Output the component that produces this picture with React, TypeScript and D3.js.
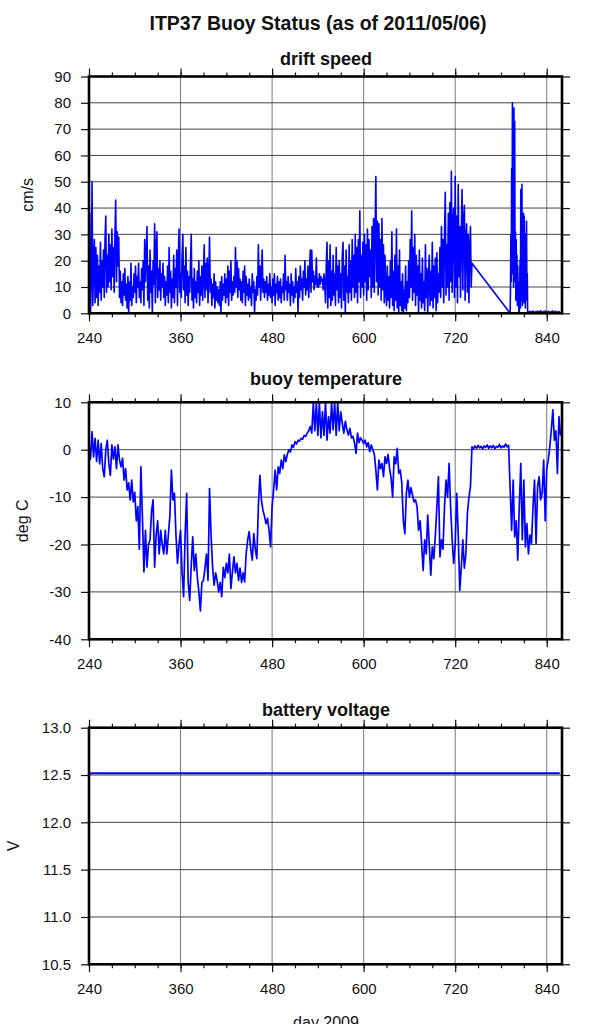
import React, { useEffect, useRef } from "react";
import * as d3 from "d3";

// drift speed (cm/s), rows of 10 days starting at day 240, one value per day
const driftRows: number[][] = [
  [2, 38, 0, 12, 50, 3, 20, 28, 4, 25],
  [6, 22, 3, 18, 8, 27, 5, 20, 10, 24],
  [6, 28, 37, 8, 22, 10, 30, 12, 26, 9],
  [32, 14, 25, 8, 30, 43, 12, 31, 18, 29],
  [6, 16, 4, 12, 3, 15, 7, 17, 5, 11],
  [2, 14, 0, 12, 5, 19, 3, 10, 6, 15],
  [8, 18, 4, 14, 10, 19, 6, 12, 4, 17],
  [9, 20, 3, 28, 12, 22, 33, 5, 18, 2],
  [24, 8, 16, 0, 20, 11, 34, 4, 25, 31],
  [6, 17, 9, 20, 5, 15, 10, 19, 6, 14],
  [3, 12, 7, 18, 4, 25, 8, 16, 2, 13],
  [6, 22, 4, 17, 10, 24, 3, 20, 32, 8],
  [15, 6, 22, 30, 9, 18, 4, 25, 7, 16],
  [3, 14, 8, 19, 30, 5, 13, 2, 17, 6],
  [12, 4, 16, 8, 20, 3, 14, 7, 18, 5],
  [15, 26, 6, 19, 9, 21, 4, 14, 29, 8],
  [13, 3, 11, 6, 15, 2, 12, 5, 10, 4],
  [9, 3, 12, 0, 14, 5, 11, 7, 15, 4],
  [13, 6, 18, 3, 16, 8, 20, 5, 12, 7],
  [14, 8, 25, 10, 20, 6, 17, 9, 13, 5],
  [12, 4, 16, 8, 18, 3, 14, 7, 11, 5],
  [13, 6, 10, 3, 15, 8, 12, 0, 9, 5],
  [14, 7, 26, 10, 18, 5, 15, 24, 8, 13],
  [6, 12, 8, 14, 5, 11, 7, 15, 6, 10],
  [4, 13, 7, 15, 3, 11, 8, 14, 5, 12],
  [6, 13, 4, 10, 8, 15, 5, 22, 9, 12],
  [5, 14, 8, 11, 3, 15, 7, 12, 4, 10],
  [6, 17, 8, 12, 0, 14, 6, 18, 9, 13],
  [5, 16, 10, 20, 7, 13, 9, 18, 6, 15],
  [24, 8, 24, 12, 16, 9, 14, 11, 21, 10],
  [13, 10, 15, 11, 14, 12, 13, 9, 15, 11],
  [4, 18, 27, 2, 20, 6, 26, 3, 16, 5],
  [22, 7, 15, 3, 25, 9, 18, 4, 20, 6],
  [15, 2, 22, 27, 5, 18, 0, 24, 8, 14],
  [4, 26, 8, 20, 5, 28, 10, 22, 6, 30],
  [8, 25, 4, 28, 12, 39, 6, 22, 10, 27],
  [7, 30, 12, 26, 5, 32, 9, 28, 14, 24],
  [6, 33, 10, 36, 8, 30, 52, 12, 35, 7],
  [34, 10, 28, 5, 36, 9, 26, 4, 22, 8],
  [3, 18, 5, 14, 2, 20, 6, 31, 3, 16],
  [1, 22, 5, 32, 2, 18, 0, 24, 3, 12],
  [1, 15, 0, 9, 2, 18, 1, 12, 4, 20],
  [6, 28, 10, 39, 5, 25, 8, 30, 3, 22],
  [7, 18, 0, 24, 5, 15, 2, 21, 4, 12],
  [1, 26, 6, 17, 0, 14, 22, 3, 16, 5],
  [27, 2, 18, 6, 21, 1, 23, 4, 15, 8],
  [25, 6, 33, 10, 28, 4, 30, 46, 7, 26],
  [10, 38, 5, 42, 12, 54, 8, 35, 40, 6],
  [52, 10, 37, 4, 49, 14, 33, 6, 30, 47],
  [9, 36, 41, 5, 28, 34, 8, 30, 4, 25],
  [33, 10, 19],
];
const driftStart = 240;

// after the data gap: spike section every half day from day 792
const driftSpike = [
  0, 10, 30, 12, 55, 20, 80, 15, 78, 10,
  78, 25, 73, 12, 31, 5, 28, 10, 22, 3,
  18, 6, 12, 0, 0, 8, 20, 2, 47, 5,
  30, 49, 3, 25, 8, 38, 4, 37, 10, 30,
  2, 20, 5, 35, 8, 15, 0,
];
const spikeStart = 792;

// near-zero tail, one per day from day 816
const driftTail = [
  0.5, 0.2, 0.8, 0.1, 0.6, 0.3, 0.9, 0.2, 0.5, 0.1,
  0.7, 0.4, 0.8, 0.2, 0.6, 0.3, 1.0, 0.2, 0.5, 0.1,
  0.7, 0.3, 0.9, 0.2, 0.6, 0.1, 0.8, 0.3, 0.5, 0.2,
  0.7, 0.4, 0.9, 0.1, 0.6, 0.3, 0.8, 0.2, 0.5, 0.1,
  0.7, 0.3,
];
const tailStart = 816;

// buoy temperature (deg C), rows of 10 values every 2 days from day 240
const tempRows: number[][] = [
  [1, -2, 3.8, -1.5, 2.4, -2.5, 2, -3, 1.3, -4],
  [-5.7, 0, 2, -3, -5.4, 1, -2, 0.6, -4, 1],
  [-2.2, -3.6, -1.8, -6.4, -4, -8.5, -7, -10.6, -6.4, -11],
  [-9, -15, -12, -21, -3.6, -14, -25.8, -17, -24.8, -20],
  [-19, -13, -10.6, -24.8, -18, -15, -22, -17, -20, -22],
  [-17, -22, -18, -14, -4.3, -10.6, -9.2, -18, -24, -20],
  [-17, -26, -31, -18, -9.2, -28, -31.8, -24.4, -18.4, -25.5],
  [-22, -26.9, -30, -34, -28, -27.6, -25, -22, -27.6, -8.2],
  [-18, -24.8, -28.6, -26, -27.6, -30, -28, -31, -24.8, -27],
  [-24, -26, -22, -29.3, -25.8, -22.6, -26, -24, -27.6, -25],
  [-28, -26, -27.9, -22, -19, -17.3, -21, -23.3, -17.7, -21],
  [-23, -12, -5.4, -10.6, -12.8, -14, -15.6, -14.5, -17, -20.5],
  [-12, -8.5, -4.3, -8.5, -3.6, -5, -2.2, -4, -1.1, -2.5],
  [-1, 0, -0.5, 1, 0.5, 1.7, 1.2, 2, 1.8, 2.4],
  [2.2, 3, 2.8, 3.5, 4, 4.9, 3.5, 9.8, 4, 10],
  [3, 10, 2.5, 8, 3, 10, 2, 7, 3.5, 10],
  [4.2, 10, 3, 10, 4, 8, 5.6, 3.5, 6, 4.2],
  [3.1, 4.5, 2.5, 2.8, 1.5, -0.8, 3.5, 1.5, 2.5, 2],
  [1.3, 2, 0.6, 1.5, -0.4, 1, 0, -1, -4.3, -8.5],
  [-2.2, -4, -2.9, -5.7, -1.5, -2.9, -1, -4, -6, -10],
  [-1.5, -3, 0.3, -5, -4.3, -7, -15, -17.7, -9.2, -6.4],
  [-10, -8, -9.5, -11, -10.6, -12, -17, -15, -19.8, -25.5],
  [-19, -22, -13.8, -20, -26.5, -20.5, -23, -18, -12, -5.7],
  [-22.6, -19, -21, -12, -6.4, -10, -2.9, -12, -19, -24],
  [-20, -9.2, -18, -29.7, -24.8, -19, -25, -22, -13.5, -10],
  [-7.8, 0.6, 0.2, 0.8, 0.3, 0.9, 0.4, 0.7, 0.2, 0.8],
  [0.5, 1.0, 0.3, 0.8, 0.4, 0.9, 0.2, 0.7, 0.5, 1.1],
  [0.4, 0.8, 0.5, 1.2, 0.6, 0.9, -8, -17, -6.4, -18.4],
  [-15, -23.3, -12, -2.9, -19, -6.4, -20.5, -15.6, -22, -18],
  [-19.8, -12, -6.4, -19.8, -7.8, -5.7, -10.6, -9, -2.2, -15],
  [-4, -2.2, 0.6, 4.2, 8.4, 2, 4, -5, 7, 3],
];
const tempStart = 240;

// battery voltage (V)
const batteryDays = [241, 857];
const batteryValues = [12.52, 12.52];

const xMajorTicks = [240, 360, 480, 600, 720, 840];
const xMinorTicks = d3.range(240, 861, 30);
const speedTicks = [0, 10, 20, 30, 40, 50, 60, 70, 80, 90];
const tempTicks = [-40, -30, -20, -10, 0, 10];
const voltTicks = [10.5, 11.0, 11.5, 12.0, 12.5, 13.0];

interface Pt {
  day: number;
  value: number;
}

const FONT = "'Liberation Sans', Arial, Helvetica, sans-serif";

export default function App() {
  const svgRef = useRef<SVGSVGElement>(null);

  useEffect(() => {
    const svg = d3.select(svgRef.current);
    svg.selectAll("*").remove();

    const left = 89;
    const right = 562;
    const x = d3.scaleLinear().domain([240, 860]).range([left, right]);

    const drift: Pt[] = [];
    driftRows.forEach((row, r) =>
      row.forEach((v, j) => drift.push({ day: driftStart + r * 10 + j, value: v }))
    );
    driftSpike.forEach((v, i) => drift.push({ day: spikeStart + i * 0.5, value: v }));
    driftTail.forEach((v, i) => drift.push({ day: tailStart + i, value: v }));

    const temp: Pt[] = [];
    tempRows.forEach((row, r) =>
      row.forEach((v, j) => temp.push({ day: tempStart + r * 20 + j * 2, value: v }))
    );

    const battery: Pt[] = batteryDays.map((d, i) => ({ day: d, value: batteryValues[i] }));

    // plain hyphen minus like the original plot
    const intFmt = (d: number) => String(Math.round(d));

    const panels = [
      {
        id: "p1",
        top: 76.5,
        bottom: 313.3,
        domain: [0, 90],
        ticks: speedTicks,
        fmt: intFmt,
        title: "drift speed",
        titleY: 64.5,
        label: "cm/s",
        labelX: 33,
        data: drift,
        width: 1.6,
      },
      {
        id: "p2",
        top: 402.3,
        bottom: 639.3,
        domain: [-40, 10],
        ticks: tempTicks,
        fmt: intFmt,
        title: "buoy temperature",
        titleY: 384.5,
        label: "deg C",
        labelX: 28,
        data: temp,
        width: 1.7,
      },
      {
        id: "p3",
        top: 727.7,
        bottom: 964.3,
        domain: [10.5, 13],
        ticks: voltTicks,
        fmt: d3.format(".1f"),
        title: "battery voltage",
        titleY: 716,
        label: "V",
        labelX: 19,
        data: battery,
        width: 2,
      },
    ];

    svg
      .append("text")
      .attr("x", 318)
      .attr("y", 30)
      .attr("text-anchor", "middle")
      .attr("font-family", FONT)
      .attr("font-weight", "bold")
      .attr("font-size", 19.5)
      .attr("fill", "#111")
      .text("ITP37 Buoy Status (as of 2011/05/06)");

    panels.forEach((p) => {
      const y = d3.scaleLinear().domain(p.domain).range([p.bottom, p.top]);
      const g = svg.append("g");

      g.append("clipPath")
        .attr("id", `clip-${p.id}`)
        .append("rect")
        .attr("x", left)
        .attr("y", p.top)
        .attr("width", right - left)
        .attr("height", p.bottom - p.top);

      // grid
      g.selectAll(".vgrid")
        .data(xMajorTicks.slice(1))
        .enter()
        .append("line")
        .attr("x1", (d) => x(d))
        .attr("x2", (d) => x(d))
        .attr("y1", p.top)
        .attr("y2", p.bottom)
        .attr("stroke", "#777")
        .attr("stroke-width", 1);

      g.selectAll(".hgrid")
        .data(p.ticks.slice(1, -1))
        .enter()
        .append("line")
        .attr("x1", left)
        .attr("x2", right)
        .attr("y1", (d) => y(d))
        .attr("y2", (d) => y(d))
        .attr("stroke", "#444")
        .attr("stroke-width", 1);

      const line = d3
        .line<Pt>()
        .x((d) => x(d.day))
        .y((d) => y(d.value));

      g.append("path")
        .datum(p.data)
        .attr("clip-path", `url(#clip-${p.id})`)
        .attr("fill", "none")
        .attr("stroke", "#0000ff")
        .attr("stroke-width", p.width)
        .attr("stroke-linejoin", "round")
        .attr("d", line);

      const styleAxis = (sel: d3.Selection<SVGGElement, unknown, null, undefined>) => {
        sel.select(".domain").remove();
        sel.selectAll("line").attr("stroke", "#111").attr("stroke-width", 1.2);
        sel
          .selectAll("text")
          .attr("font-family", FONT)
          .attr("font-size", 15)
          .attr("fill", "#111");
      };

      // bottom
      g.append("g")
        .attr("transform", `translate(0,${p.bottom})`)
        .call(
          d3.axisBottom(x).tickValues(xMinorTicks).tickSize(4).tickFormat(() => "")
        )
        .call(styleAxis);
      g.append("g")
        .attr("transform", `translate(0,${p.bottom})`)
        .call(
          d3
            .axisBottom(x)
            .tickValues(xMajorTicks)
            .tickSize(8)
            .tickPadding(11.3)
            .tickFormat((d) => intFmt(d as number))
        )
        .call(styleAxis);

      // top
      g.append("g")
        .attr("transform", `translate(0,${p.top})`)
        .call(d3.axisTop(x).tickValues(xMinorTicks).tickSize(4).tickFormat(() => ""))
        .call(styleAxis);
      g.append("g")
        .attr("transform", `translate(0,${p.top})`)
        .call(d3.axisTop(x).tickValues(xMajorTicks).tickSize(8).tickFormat(() => ""))
        .call(styleAxis);

      // left
      g.append("g")
        .attr("transform", `translate(${left},0)`)
        .call(
          d3
            .axisLeft(y)
            .tickValues(p.ticks)
            .tickSize(8)
            .tickPadding(10)
            .tickFormat((d) => p.fmt(d as number))
        )
        .call(styleAxis);

      // right
      g.append("g")
        .attr("transform", `translate(${right},0)`)
        .call(d3.axisRight(y).tickValues(p.ticks).tickSize(8).tickFormat(() => ""))
        .call(styleAxis);

      // frame
      g.append("rect")
        .attr("x", left)
        .attr("y", p.top)
        .attr("width", right - left)
        .attr("height", p.bottom - p.top)
        .attr("fill", "none")
        .attr("stroke", "#000")
        .attr("stroke-width", 2.6);

      g.append("text")
        .attr("x", 326)
        .attr("y", p.titleY)
        .attr("text-anchor", "middle")
        .attr("font-family", FONT)
        .attr("font-weight", "bold")
        .attr("font-size", 18)
        .attr("fill", "#111")
        .text(p.title);

      const cy = (p.top + p.bottom) / 2;
      g.append("text")
        .attr("transform", `translate(${p.labelX},${cy}) rotate(-90)`)
        .attr("text-anchor", "middle")
        .attr("font-family", FONT)
        .attr("font-size", 16)
        .attr("fill", "#111")
        .text(p.label);
    });

    svg
      .append("text")
      .attr("x", 326)
      .attr("y", 1028)
      .attr("text-anchor", "middle")
      .attr("font-family", FONT)
      .attr("font-size", 16)
      .attr("fill", "#111")
      .text("day 2009");
  }, []);

  return (
    <svg
      ref={svgRef}
      width={592}
      height={1024}
      style={{ position: "absolute", left: 0, top: 0, display: "block", background: "#fff" }}
    ></svg>
  );
}
